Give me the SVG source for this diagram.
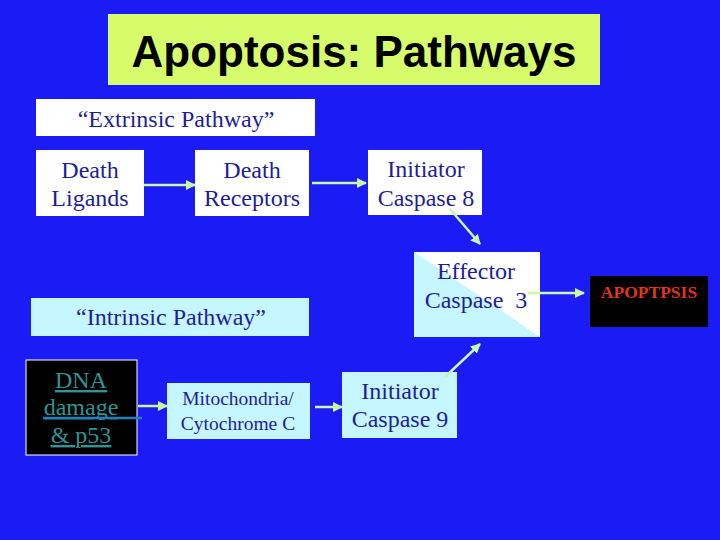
<svg xmlns="http://www.w3.org/2000/svg" width="720" height="540" viewBox="0 0 720 540">
<style>
.t{font-family:"Liberation Serif","Times New Roman",serif;fill:#1e1e96;text-anchor:middle}
.w{fill:#ffffff}
.c{fill:#c6f6ff}
.cn{stroke:#c8f7a8;stroke-width:2.5;fill:none}
</style>
<defs>
<marker id="ah" viewBox="0 0 10 10" refX="9" refY="5" markerWidth="4" markerHeight="4" orient="auto" markerUnits="strokeWidth">
<path d="M0,0 L10,5 L0,10 z" fill="#c8f7a8"/>
</marker>
<linearGradient id="diag" x1="0" y1="1" x2="1" y2="0">
<stop offset="0" stop-color="#c6f6ff"/>
<stop offset="0.5" stop-color="#c6f6ff"/>
<stop offset="0.5" stop-color="#ffffff"/>
<stop offset="1" stop-color="#ffffff"/>
</linearGradient>
</defs>
<rect width="720" height="540" fill="#1b1bf5"/>
<g id="title">
<rect x="108" y="14" width="492" height="71" fill="#d6fc6c"/>
<text x="354" y="67" font-family="Liberation Sans,Arial,sans-serif" font-weight="bold" font-size="44" text-anchor="middle" fill="#000">Apoptosis: Pathways</text>
</g>
<g id="extrinsic">
<rect class="w" x="36" y="99" width="279" height="37"/>
<text class="t" x="176" y="127" font-size="24">“Extrinsic Pathway”</text>
</g>
<g id="ligands">
<rect class="w" x="36" y="150" width="108" height="66"/>
<text class="t" x="90" y="178" font-size="24">Death</text>
<text class="t" x="90" y="206" font-size="24">Ligands</text>
</g>
<g id="receptors">
<rect class="w" x="195" y="150" width="114" height="66"/>
<text class="t" x="252" y="178" font-size="24">Death</text>
<text class="t" x="252" y="206" font-size="24">Receptors</text>
</g>
<g id="casp8">
<rect class="w" x="368" y="150" width="114" height="65"/>
<text class="t" x="426" y="177" font-size="24">Initiator</text>
<text class="t" x="426" y="206" font-size="24">Caspase 8</text>
</g>
<g id="effector">
<rect x="414" y="252" width="126" height="85" fill="url(#diag)"/>
<text class="t" x="476" y="279" font-size="24">Effector</text>
<text class="t" x="476" y="308" font-size="24" xml:space="preserve">Caspase  3</text>
</g>
<g id="apoptosis">
<rect x="590" y="276" width="118" height="51" fill="#000"/>
<text x="649" y="298" font-family="Liberation Serif,'Times New Roman',serif" font-weight="bold" font-size="17.5" text-anchor="middle" fill="#e0341e">APOPTPSIS</text>
</g>
<g id="intrinsic">
<rect class="c" x="31" y="298" width="278" height="38"/>
<text class="t" x="171" y="325" font-size="24">“Intrinsic Pathway”</text>
</g>
<g id="dna">
<rect x="26" y="360" width="111" height="95" fill="#000" stroke="#ffffff" stroke-width="1"/>
<g font-family="Liberation Serif,'Times New Roman',serif" font-size="24" text-anchor="middle" fill="#2e9494" text-decoration="underline">
<text x="81" y="388">DNA</text>
<text x="81" y="415">damage</text>
<text x="81" y="443">&amp; p53</text>
</g>
<line x1="43" y1="418" x2="142" y2="418" stroke="#1f7fc0" stroke-width="2.5"/>
</g>
<g id="mito">
<rect class="c" x="167" y="383" width="143" height="56"/>
<text class="t" x="238" y="405" font-size="19.5">Mitochondria/</text>
<text class="t" x="238" y="430" font-size="19.5">Cytochrome C</text>
</g>
<g id="casp9">
<rect class="c" x="342" y="372" width="115" height="66"/>
<text class="t" x="400" y="399" font-size="24">Initiator</text>
<text class="t" x="400" y="427" font-size="24">Caspase 9</text>
</g>
<g id="connectors">
<line class="cn" x1="144" y1="185" x2="195" y2="185" marker-end="url(#ah)"/>
<line class="cn" x1="312" y1="183" x2="366" y2="183" marker-end="url(#ah)"/>
<line class="cn" x1="450" y1="209" x2="480" y2="244" marker-end="url(#ah)"/>
<line class="cn" x1="528" y1="293" x2="584" y2="293" marker-end="url(#ah)"/>
<line class="cn" x1="138" y1="406" x2="167" y2="406" marker-end="url(#ah)"/>
<line class="cn" x1="315" y1="407" x2="342" y2="407" marker-end="url(#ah)"/>
<line class="cn" x1="445" y1="377" x2="480" y2="344" marker-end="url(#ah)"/>
</g>
</svg>
